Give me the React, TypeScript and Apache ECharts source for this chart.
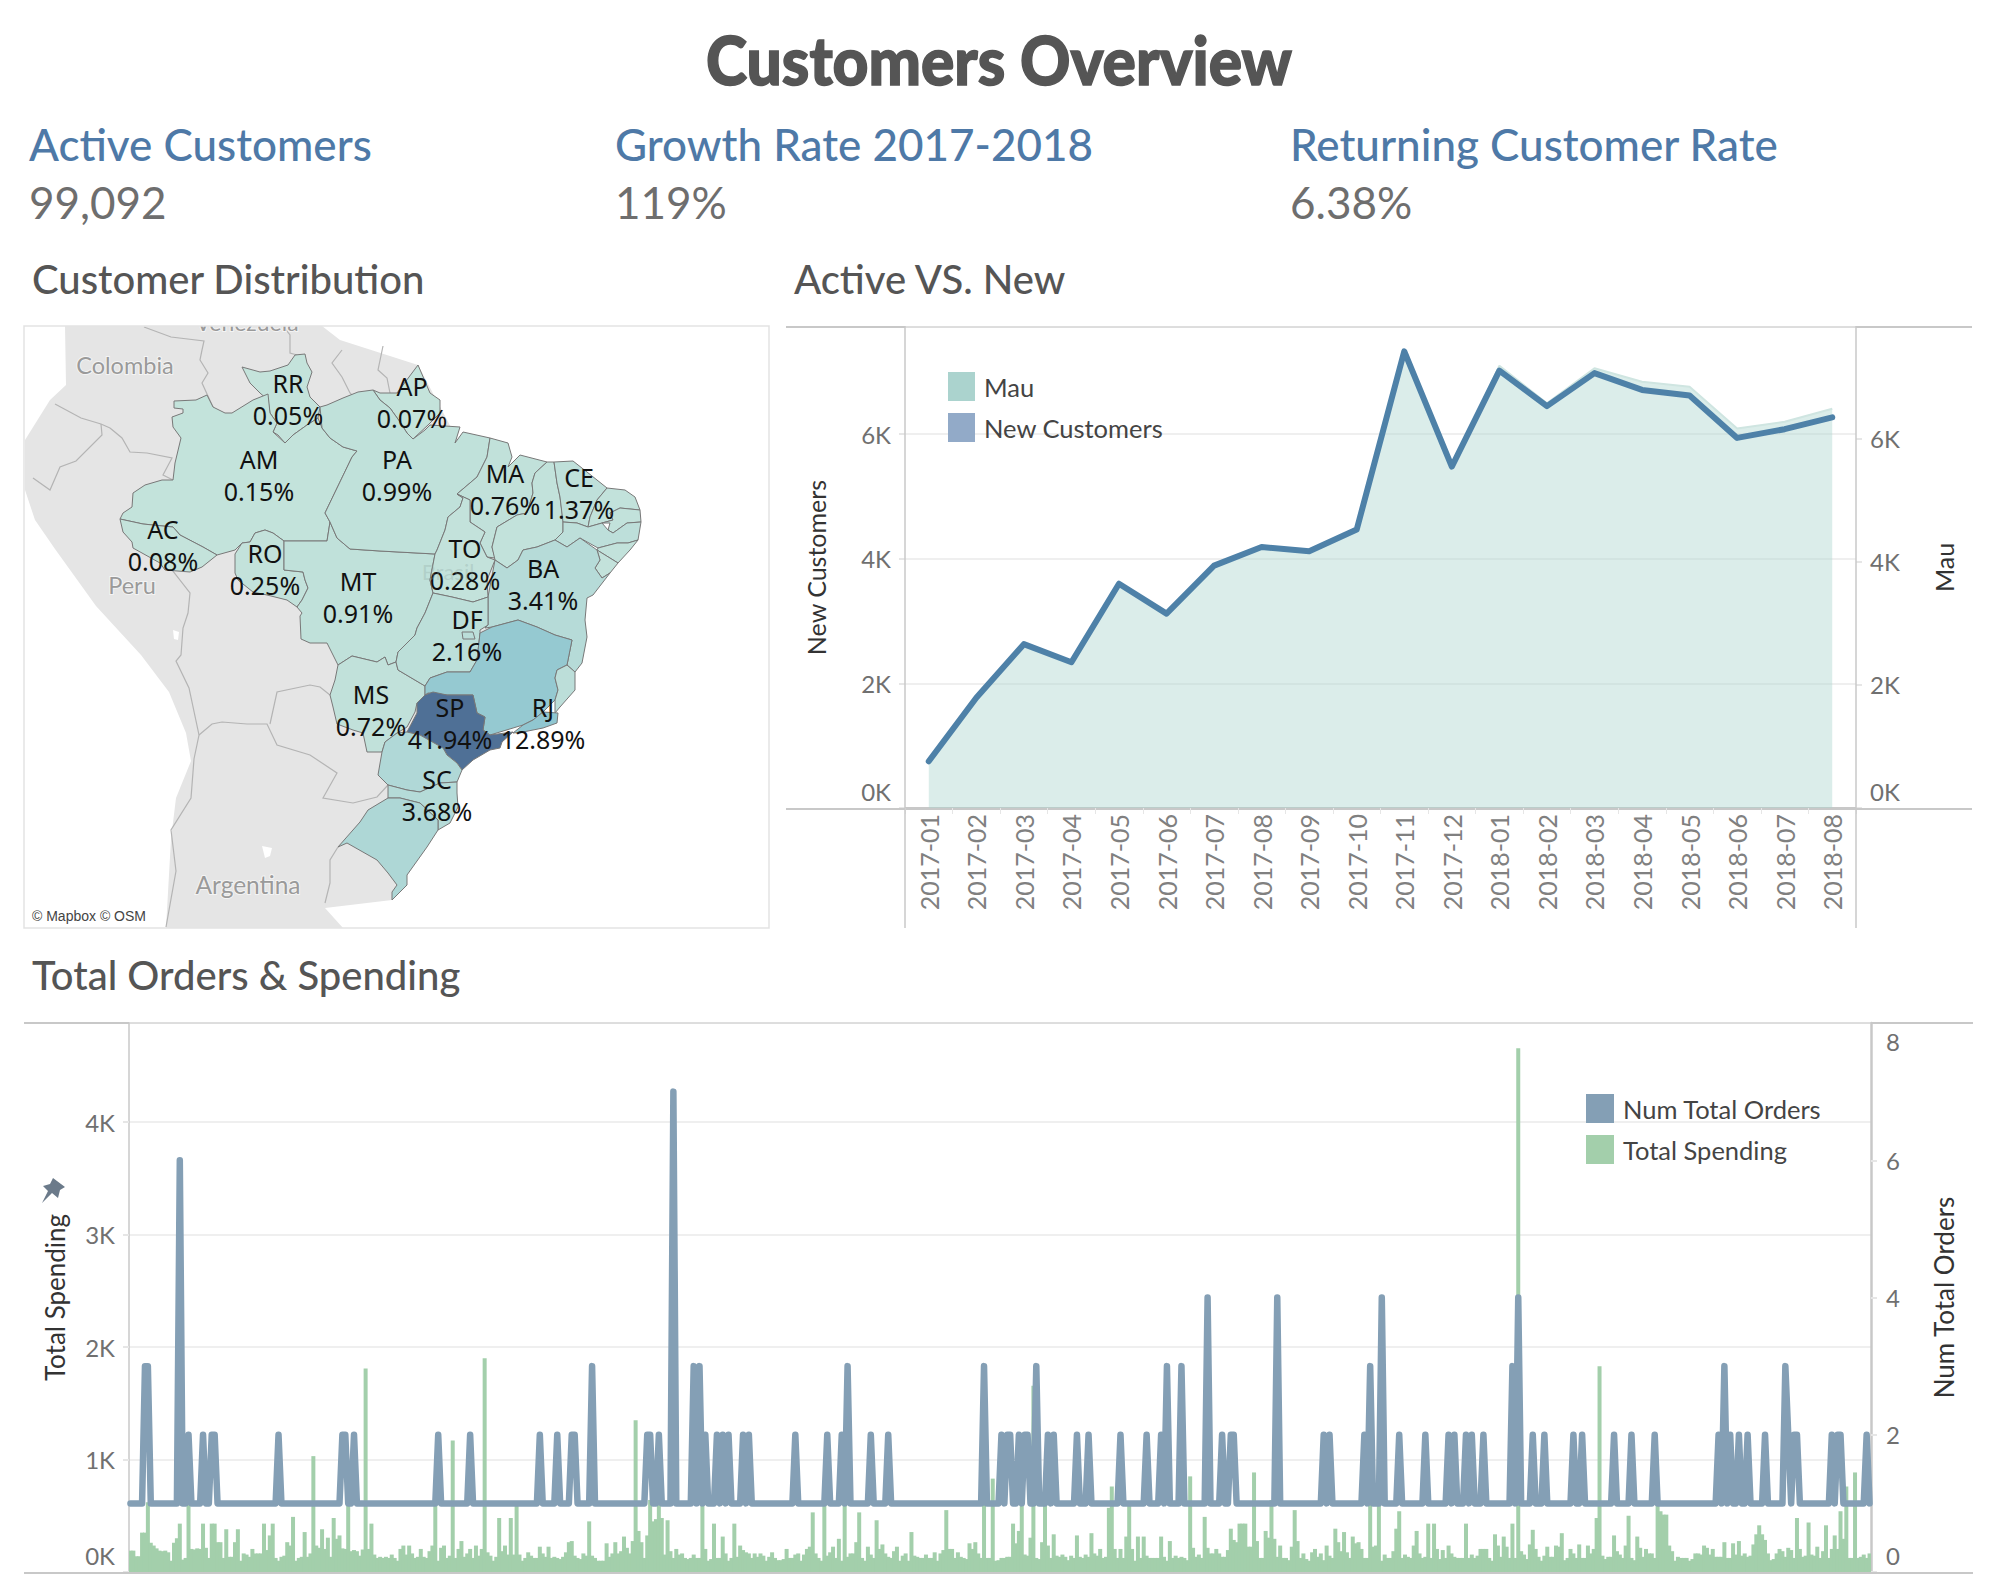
import React, { useEffect, useRef } from "react";
import * as echarts from "echarts";

// ---------- Active VS. New ----------
const months = ["2017-01","2017-02","2017-03","2017-04","2017-05","2017-06","2017-07","2017-08","2017-09","2017-10","2017-11","2017-12","2018-01","2018-02","2018-03","2018-04","2018-05","2018-06","2018-07","2018-08"];
const newCustomers = [750,1770,2630,2340,3600,3120,3890,4190,4120,4470,7330,5480,7020,6450,6980,6710,6620,5940,6080,6270];
const mau = [760,1790,2670,2370,3650,3160,3910,4240,4170,4530,7450,5550,7190,6580,7150,6930,6850,6170,6280,6490];

// ---------- Total Orders & Spending (one entry per day) ----------
const spendingLow = [
190,190,140,140,350,350,275,260,235,210,190,185,190,175,100,260,300,430,110,125,
225,205,200,210,205,430,215,125,430,430,265,265,125,380,135,135,265,380,100,165,
155,135,205,165,165,165,430,195,325,430,125,100,135,145,265,235,490,100,125,135,
355,135,165,185,235,215,380,205,305,135,480,295,325,210,205,205,185,195,185,145,
200,175,205,430,155,125,135,125,135,125,155,125,100,205,235,155,235,165,125,135,
205,135,125,185,235,135,100,215,235,125,145,225,125,205,275,135,165,205,125,235,
145,205,205,175,145,100,135,480,185,235,155,480,155,205,155,100,125,175,145,125,
125,225,165,135,225,125,135,125,115,135,175,265,275,145,125,115,165,145,450,145,
125,100,100,100,255,135,165,265,165,185,315,215,165,275,325,365,265,125,325,345,
450,470,470,480,155,460,185,125,205,155,165,125,115,125,155,125,125,165,205,100,
115,430,125,125,315,165,100,125,430,135,235,195,175,165,125,165,135,165,145,100,
135,175,125,105,105,115,205,125,125,155,165,100,155,205,225,530,165,125,100,105,
145,175,225,125,295,100,155,135,165,165,265,530,125,100,225,155,125,460,205,245,
165,135,125,185,225,100,145,165,100,355,145,135,125,125,155,125,125,175,100,165,
195,550,205,205,125,175,135,125,115,255,205,265,165,125,125,125,125,100,100,105,
125,125,135,135,430,255,365,265,155,145,305,285,125,115,265,640,235,125,335,145,
135,155,135,105,145,125,325,135,125,155,135,345,165,145,205,125,135,570,165,205,
125,205,125,315,600,205,100,315,125,315,145,125,125,125,125,315,135,100,275,125,
145,125,135,125,105,215,215,135,155,125,490,215,165,165,205,165,135,135,195,385,
285,265,430,430,430,225,225,135,275,125,125,365,305,640,295,135,235,125,125,105,
225,550,275,125,165,115,100,175,205,135,165,105,235,145,125,385,265,185,355,175,
125,315,255,265,205,125,125,205,225,235,135,100,155,125,125,185,385,540,125,155,
135,125,235,365,165,125,135,430,125,430,205,115,195,125,235,165,135,125,125,125,
430,125,155,125,145,205,205,205,125,100,335,235,135,315,225,125,430,125,205,185,
155,115,245,375,205,135,100,145,225,135,135,235,225,345,105,125,205,165,125,245,
125,125,235,165,205,480,305,145,115,135,135,325,185,155,125,235,500,125,105,315,
215,135,205,165,165,125,395,540,510,510,235,185,100,135,125,125,125,100,115,165,
165,155,235,215,155,205,135,135,135,265,125,125,255,155,275,145,165,135,145,245,
335,415,335,285,165,105,115,165,205,185,135,215,195,125,480,205,135,145,440,155,
145,225,125,185,415,125,205,325,205,540,295,125,125,125,155,125,135,155,125,165,
];
const spendingSpikes: [number, number][] = [[6,620],[20,620],[63,1030],[75,640],[81,1810],[105,640],[111,1170],[122,1900],[133,620],[174,1350],[179,640],[182,630],[197,650],[239,815],[246,640],[294,640],[297,830],[307,640],[311,1655],[338,760],[365,850],[387,885],[427,640],[430,1020],[478,4655],[506,1830],[526,640],[591,760],[594,885]];
const orderSpikes: [number, number][] = [[5,3],[6,3],[17,6],[20,2],[25,2],[28,2],[29,2],[51,2],[73,2],[74,2],[77,2],[106,2],[117,2],[141,2],[147,2],[152,2],[153,2],[159,3],[178,2],[179,2],[182,2],[187,7],[194,3],[196,3],[198,2],[202,2],[204,2],[206,2],[211,2],[213,2],[229,2],[240,2],[245,2],[247,3],[255,2],[261,2],[294,3],[300,2],[302,2],[303,2],[306,2],[308,2],[309,2],[312,3],[316,2],[318,2],[326,2],[330,2],[341,2],[350,2],[355,2],[357,3],[362,3],[371,4],[376,2],[379,2],[380,2],[395,4],[411,2],[413,2],[425,2],[427,3],[431,4],[437,2],[446,2],[454,2],[456,2],[460,2],[462,2],[466,2],[476,3],[478,4],[483,2],[487,2],[497,2],[500,2],[511,2],[517,2],[525,2],[547,2],[549,3],[551,2],[554,2],[557,2],[563,2],[570,3],[571,2],[573,2],[574,2],[586,2],[588,2],[589,2],[598,2]];
const days = spendingLow.map((_, i) => "day " + (i + 1));
const spending = spendingLow.slice();
spendingSpikes.forEach(([i, v]) => { spending[i] = v; });
const orders: number[] = spendingLow.map(() => 1);
orderSpikes.forEach(([i, v]) => { orders[i] = v; });

// ---------- Customer Distribution ----------
type Pt = [number, number];
const stateOutlines: Record<string, Pt[]> = {
  RR: [[242,367],[260,372],[270,371],[288,365],[295,355],[305,354],[307,363],[312,372],[307,387],[310,397],[320,407],[318,418],[307,425],[300,430],[293,435],[285,443],[278,435],[273,432],[277,423],[270,413],[268,400],[260,393],[250,383]],
  AM: [[174,401],[196,400],[207,395],[213,407],[225,413],[232,413],[253,400],[268,394],[270,413],[277,423],[273,432],[285,443],[293,435],[307,425],[318,418],[322,428],[330,438],[343,447],[357,451],[352,457],[325,513],[330,522],[327,541],[284,541],[273,533],[265,530],[255,533],[250,542],[242,543],[235,550],[217,555],[203,547],[180,535],[173,527],[143,524],[120,519],[123,513],[132,507],[133,493],[145,485],[162,480],[173,480],[175,463],[181,438],[173,427],[172,417],[183,413],[183,409],[174,408]],
  AC: [[120,519],[143,524],[173,527],[180,535],[203,547],[217,555],[202,567],[190,572],[165,570],[160,563],[142,553],[133,548],[132,542],[123,532]],
  RO: [[255,533],[265,530],[273,533],[284,541],[284,570],[303,572],[305,580],[308,588],[302,600],[297,607],[287,600],[267,595],[253,592],[238,580],[235,573],[235,554],[242,543],[250,542]],
  MT: [[284,541],[327,541],[330,522],[337,538],[350,549],[380,551],[435,554],[430,580],[433,593],[425,613],[417,628],[415,635],[398,652],[396,662],[388,665],[385,657],[377,662],[352,656],[338,665],[327,643],[310,643],[301,639],[300,616],[302,613],[297,607],[302,600],[308,588],[305,580],[303,572],[284,570]],
  MS: [[338,665],[352,656],[377,662],[385,657],[388,665],[396,662],[398,670],[425,686],[425,695],[417,703],[415,712],[407,727],[397,733],[385,742],[382,752],[367,752],[363,733],[353,730],[337,724],[333,707],[330,695],[335,680]],
  AP: [[373,390],[380,393],[397,393],[418,365],[430,393],[440,400],[440,413],[428,425],[413,439],[407,433],[400,422],[390,408],[380,400]],
  PA: [[320,407],[327,405],[343,398],[358,392],[373,390],[380,400],[390,408],[400,422],[407,433],[413,439],[425,430],[430,425],[445,426],[460,427],[455,443],[463,432],[490,438],[487,457],[477,477],[457,494],[463,498],[460,507],[448,517],[445,530],[437,550],[435,554],[380,551],[350,549],[337,538],[330,522],[325,513],[352,457],[357,451],[343,447],[330,438],[322,428]],
  MA: [[490,438],[508,443],[512,457],[508,467],[520,455],[547,462],[535,473],[532,483],[533,493],[527,513],[517,515],[497,527],[492,547],[495,558],[487,557],[480,543],[485,532],[470,522],[470,500],[457,494],[477,477],[487,457]],
  PI: [[547,462],[554,462],[557,483],[560,497],[563,520],[563,532],[555,540],[537,547],[523,550],[518,560],[507,568],[495,560],[492,547],[497,527],[517,515],[527,513],[533,493],[532,483],[535,473]],
  CE: [[554,462],[573,461],[587,472],[607,488],[597,500],[590,517],[588,527],[577,523],[563,522],[560,497],[557,483]],
  RN: [[607,488],[625,490],[635,497],[640,510],[620,508],[610,513],[613,520],[602,523],[588,527],[590,517],[597,500]],
  PB: [[640,510],[641,522],[627,523],[613,533],[608,530],[610,523],[602,523],[613,520],[610,513],[620,508]],
  PE: [[641,522],[638,540],[628,543],[617,543],[598,548],[580,538],[567,547],[555,540],[563,532],[563,522],[577,523],[588,527],[602,523],[608,530],[613,533],[627,523]],
  AL: [[638,540],[630,550],[618,563],[597,550],[598,548],[617,543],[628,543]],
  SE: [[618,563],[610,573],[602,578],[595,568],[600,560],[597,550]],
  BA: [[495,560],[507,568],[518,560],[523,550],[537,547],[555,540],[567,547],[580,538],[597,550],[600,560],[595,568],[602,578],[610,573],[593,595],[587,598],[585,620],[587,637],[582,663],[575,672],[567,665],[572,640],[555,635],[537,627],[518,620],[492,627],[485,628],[488,625],[488,597]],
  TO: [[457,494],[463,498],[460,507],[448,517],[445,530],[437,550],[435,554],[430,580],[433,593],[452,597],[473,602],[488,597],[487,580],[495,560],[487,557],[480,543],[485,532],[470,522],[470,500]],
  GO: [[433,593],[452,597],[473,602],[488,597],[488,625],[480,630],[480,633],[477,660],[470,672],[447,672],[430,678],[425,686],[398,670],[396,662],[398,652],[415,635],[417,628],[425,613]],
  MG: [[425,686],[430,678],[447,672],[470,672],[477,660],[480,633],[492,627],[518,620],[537,627],[555,635],[572,640],[567,665],[557,670],[555,678],[558,690],[555,700],[543,712],[533,720],[523,725],[490,735],[483,730],[485,717],[477,713],[473,695],[447,695],[428,693],[425,695]],
  ES: [[567,665],[575,672],[575,690],[560,707],[555,713],[555,700],[558,690],[555,678],[557,670]],
  RJ: [[543,712],[558,713],[557,723],[543,728],[523,732],[513,733],[523,725],[533,720]],
  SP: [[425,695],[433,692],[447,695],[473,695],[477,713],[485,717],[483,730],[490,735],[513,732],[502,742],[500,748],[490,750],[473,760],[462,770],[457,763],[447,755],[443,748],[420,735],[407,732],[417,713],[417,703]],
  PR: [[407,732],[420,735],[443,748],[447,755],[457,763],[462,770],[457,782],[440,783],[420,792],[407,790],[388,785],[378,775],[382,752],[385,742],[397,733]],
  SC: [[388,785],[407,790],[420,792],[440,783],[457,782],[457,793],[458,807],[450,823],[438,830],[438,820],[420,803],[400,798],[388,798]],
  RS: [[388,798],[400,798],[420,803],[438,820],[438,830],[427,847],[407,875],[407,885],[392,900],[392,892],[397,885],[388,873],[377,860],[347,843],[338,847],[360,822],[368,810]],
  DF: [[462,632],[473,632],[475,639],[463,639]],
};
const stateShares: Record<string, number> = { RR:0.05, AP:0.07, AM:0.15, PA:0.99, MA:0.76, CE:1.37, AC:0.08, RO:0.25, MT:0.91, TO:0.28, BA:3.41, DF:2.16, MS:0.72, SP:41.94, RJ:12.89, SC:3.68, GO:2.03, MG:11.7, ES:2.04, PR:5.07, RS:5.5, PI:0.5, RN:0.49, PB:0.54, PE:1.66, AL:0.41, SE:0.34 };
const labelCenters: Record<string, Pt> = { RR:[288,399], AP:[412,402], AM:[259,475], PA:[397,475], MA:[505,489], CE:[579,493], AC:[163,545], RO:[265,569], MT:[358,597], TO:[465,564], BA:[543,584], DF:[467,635], MS:[371,710], SP:[450,723], RJ:[543,723], SC:[437,795] };
const landOutline: Pt[] = [[65,326],[66,385],[50,400],[25,440],[25,490],[35,520],[55,549],[96,606],[141,655],[169,692],[186,733],[191,761],[176,798],[171,839],[166,928],[343,928],[325,908],[392,900],[440,780],[520,650],[500,520],[418,365],[340,340],[322,326]];
const lakes: Pt[][] = [[[262,846],[272,848],[270,856],[265,858]],[[173,630],[179,632],[178,640],[174,639]]];
const borderLines: Pt[][] = [
  [[144,327],[171,337],[204,341],[202,350],[200,360],[208,373],[202,383],[213,407]],
  [[283,326],[290,335],[290,353],[297,355]],
  [[342,350],[332,363],[342,377],[350,393],[355,398]],
  [[383,346],[378,370],[387,378],[390,393]],
  [[110,428],[122,438],[130,452],[147,453],[172,458],[163,475],[173,480]],
  [[55,404],[81,418],[101,424],[110,428]],
  [[101,424],[102,435],[76,461],[60,467],[50,490],[33,478]],
  [[163,563],[172,570],[190,593],[188,613],[183,628],[181,655],[176,661],[189,688],[199,735],[194,759],[191,798],[171,830],[176,871],[166,927]],
  [[199,735],[212,724],[222,722],[247,724],[267,724],[277,745],[310,755],[337,773],[323,798],[353,803],[377,797],[388,785]],
  [[270,724],[277,692],[310,685],[320,687],[330,695]],
  [[338,847],[330,860],[330,883],[325,903]],
];
const placeNames: { t: string; x: number; y: number; s: number }[] = [
  { t: "Venezuela", x: 247, y: 322, s: 23 },
  { t: "Colombia", x: 125, y: 365, s: 23.5 },
  { t: "Peru", x: 132, y: 585, s: 23.5 },
  { t: "Argentina", x: 248, y: 884, s: 24.5 },
];

// ---------- Texts ----------
const kpis = [
  { label: "Active Customers", value: "99,092", x: 29 },
  { label: "Growth Rate 2017-2018", value: "119%", x: 615 },
  { label: "Returning Customer Rate", value: "6.38%", x: 1290 },
];
const sections = [
  { t: "Customer Distribution", x: 32, y: 279 },
  { t: "Active VS. New", x: 794, y: 279 },
  { t: "Total Orders & Spending", x: 32, y: 975 },
];

const FONT = "Lato";
const labelRich = (align: string) => ({
  z: { padding: [0, 0, 5, 0], fontFamily: FONT, fontSize: 24, color: "#707070", align },
  t: { padding: [6, 0, 0, 0], fontFamily: FONT, fontSize: 24, color: "#707070", align },
});
const toK = (v: number) => (v === 0 ? "{z|0K}" : v / 1000 + "K");

function buildBrazilGeo() {
  return {
    type: "FeatureCollection",
    features: Object.keys(stateOutlines).map((name) => {
      const pts = stateOutlines[name];
      const ring = pts.concat([pts[0]]).map(([x, y]) => [x, -y]);
      const c = labelCenters[name];
      return {
        type: "Feature",
        properties: c ? { name, cp: [c[0], -c[1]] } : { name },
        geometry: { type: "Polygon", coordinates: [ring] },
      };
    }),
  };
}

function hLine(x1: number, x2: number, y: number, w: number, color: string) {
  return { type: "line", z: 5, silent: true, shape: { x1, y1: y, x2, y2: y }, style: { stroke: color, lineWidth: w } };
}
function vLine(x: number, y1: number, y2: number, w: number, color: string) {
  return { type: "line", z: 5, silent: true, shape: { x1: x, y1, x2: x, y2 }, style: { stroke: color, lineWidth: w } };
}

export default function App() {
  const ref = useRef<HTMLDivElement>(null);
  useEffect(() => {
    const chart = echarts.init(ref.current!, undefined, { renderer: "svg" });
    echarts.registerMap("brazil", buildBrazilGeo() as any);
    const graphics: any[] = [
      { type: "rect", z: 0, silent: true, shape: { x: 24, y: 326, width: 745, height: 602 }, style: { fill: "#ffffff" } },
      { type: "polygon", z: 0, silent: true, shape: { points: landOutline }, style: { fill: "#e5e5e5" } },
      ...lakes.map((p) => ({ type: "polygon", z: 0, silent: true, shape: { points: p }, style: { fill: "#ffffff" } })),
      ...borderLines.map((p) => ({ type: "polyline", z: 1, silent: true, shape: { points: p }, style: { stroke: "#b4b4b4", lineWidth: 1.2, fill: "none" } })),
      ...placeNames.map((p) => ({ type: "text", z: 1, silent: true, x: p.x, y: p.y, style: { text: p.t, font: `${p.s}px ${FONT}`, fill: "#9a9a9a", stroke: "#f4f4f4", lineWidth: 2, align: "center", verticalAlign: "middle" } })),
      { type: "rect", z: 1, silent: true, shape: { x: 20, y: 300, width: 760, height: 26 }, style: { fill: "#ffffff" } },
      { type: "rect", z: 1, silent: true, shape: { x: 24, y: 326, width: 745, height: 602 }, style: { fill: "none", stroke: "#e3e3e3", lineWidth: 1.5 } },
      { type: "text", z: 3, silent: true, x: 448, y: 571, style: { text: "Brasil", font: `22px ${FONT}`, fill: "rgba(140,165,160,0.3)", align: "center", verticalAlign: "middle" } },
      { type: "text", z: 3, silent: true, x: 32, y: 916, style: { text: "© Mapbox © OSM", font: `14px "Liberation Sans"`, fill: "#444444", align: "left", verticalAlign: "middle" } },
      { type: "text", z: 6, silent: true, x: 999, y: 60, scaleX: 0.943, style: { text: "Customers Overview", font: `900 66px ${FONT}`, fill: "#555555", stroke: "#555555", lineWidth: 1.5, align: "center", verticalAlign: "middle" } },
      ...kpis.map((k) => ({ type: "text", z: 6, silent: true, x: k.x, y: 144, style: { text: k.label, font: `500 44px ${FONT}`, fill: "#4e79a7", align: "left", verticalAlign: "middle" } })),
      ...kpis.map((k) => ({ type: "text", z: 6, silent: true, x: k.x, y: 202, style: { text: k.value, font: `400 44px ${FONT}`, fill: "#6e6e6e", align: "left", verticalAlign: "middle" } })),
      ...sections.map((k) => ({ type: "text", z: 6, silent: true, x: k.x, y: k.y, style: { text: k.t, font: `500 40px ${FONT}`, fill: "#555555", align: "left", verticalAlign: "middle" } })),
      // frames of the two charts
      hLine(786, 905, 327, 2, "#c8c8c8"), hLine(905, 1856, 327, 1, "#cccccc"), hLine(1856, 1972, 327, 2, "#c8c8c8"),
      hLine(786, 905, 809, 2, "#c8c8c8"), hLine(1856, 1972, 809, 2, "#c8c8c8"),
      vLine(905, 326, 928, 1.5, "#c8c8c8"), vLine(1856, 326, 928, 1.5, "#c8c8c8"),
      hLine(24, 129, 1023, 2, "#c8c8c8"), hLine(129, 1871, 1023, 1, "#cccccc"), hLine(1871, 1973, 1023, 2, "#c8c8c8"),
      hLine(24, 129, 1573, 2, "#c8c8c8"), hLine(1871, 1973, 1573, 2, "#c8c8c8"),
      // pin icon beside the axis title
      { type: "polygon", z: 6, silent: true, shape: { points: [[53,1178],[65,1187],[60,1190],[58,1198],[52,1193],[42,1203],[48,1191],[43,1186],[50,1184]] }, style: { fill: "#6b7a8a" } },
    ];
    const yLabel = { fontFamily: FONT, fontSize: 24, color: "#707070" };
    const titleStyle = { fontFamily: FONT, fontSize: 25, color: "#333333" };
    const titleStyleB = { fontFamily: FONT, fontSize: 26, color: "#333333" };
    const split = { show: true, lineStyle: { color: "#efefef", width: 2 } };
    const tick = { show: true, length: 6, lineStyle: { color: "#e6e6e6", width: 2 } };
    chart.setOption({
      animation: false,
      backgroundColor: "#ffffff",
      graphic: graphics,
      grid: [
        { left: 905, top: 327, width: 951, height: 481 },
        { left: 129, top: 1023, width: 1742, height: 549 },
      ],
      legend: [
        {
          left: 943, top: 367, orient: "vertical", itemWidth: 27, itemHeight: 29, itemGap: 12, icon: "rect", selectedMode: false,
          textStyle: { fontFamily: FONT, fontSize: 25.5, color: "#444444", padding: [0, 0, 0, 4] },
          data: [
            { name: "Mau", itemStyle: { color: "#abd3ce", opacity: 1 }, lineStyle: { opacity: 0 } },
            { name: "New Customers", itemStyle: { color: "#92aac8", opacity: 1 }, lineStyle: { opacity: 0 } },
          ],
        },
        {
          left: 1581, top: 1089, orient: "vertical", itemWidth: 28, itemHeight: 29, itemGap: 12, icon: "rect", selectedMode: false,
          textStyle: { fontFamily: FONT, fontSize: 25.5, color: "#444444", padding: [0, 0, 0, 4] },
          data: [
            { name: "Num Total Orders", itemStyle: { color: "#849fb5", opacity: 1 }, lineStyle: { opacity: 0 } },
            { name: "Total Spending", itemStyle: { color: "#a3cfab", opacity: 1 } },
          ],
        },
      ],
      xAxis: [
        {
          type: "category", gridIndex: 0, data: months,
          axisLine: { lineStyle: { color: "#c8c8c8", width: 3 } },
          axisTick: { show: true, length: 6, lineStyle: { color: "#e6e6e6" } },
          axisLabel: { rotate: 90, interval: 0, margin: 6, fontFamily: FONT, fontSize: 25, color: "#808080" },
        },
        {
          type: "category", gridIndex: 1, data: days,
          axisLine: { lineStyle: { color: "#c8c8c8", width: 3 } },
          axisTick: { show: false }, axisLabel: { show: false },
        },
      ],
      yAxis: [
        {
          type: "value", gridIndex: 0, position: "left", min: 0, max: 7720, interval: 2000,
          name: "New Customers", nameLocation: "middle", nameGap: 77, nameRotate: 90, nameTextStyle: titleStyle,
          axisLine: { show: false }, axisTick: tick, splitLine: split,
          axisLabel: { ...yLabel, margin: 14, formatter: toK, rich: labelRich("right"), showMaxLabel: false, verticalAlignMinLabel: "bottom" },
        },
        {
          type: "value", gridIndex: 0, position: "right", min: 0, max: 7820, interval: 2000,
          name: "Mau", nameLocation: "middle", nameGap: 75, nameRotate: 90, nameTextStyle: titleStyle,
          axisLine: { show: false }, axisTick: tick, splitLine: { show: false },
          axisLabel: { ...yLabel, margin: 14, formatter: toK, rich: labelRich("left"), showMaxLabel: false, verticalAlignMinLabel: "bottom" },
        },
        {
          type: "value", gridIndex: 1, position: "left", min: 0, max: 4880, interval: 1000,
          name: "Total Spending", nameLocation: "middle", nameGap: 61, nameRotate: 90, nameTextStyle: titleStyleB,
          axisLine: { show: true, lineStyle: { color: "#c8c8c8", width: 1.5 } }, axisTick: tick, splitLine: split,
          axisLabel: { ...yLabel, margin: 14, formatter: toK, rich: labelRich("right"), showMaxLabel: false, verticalAlignMinLabel: "bottom" },
        },
        {
          type: "value", gridIndex: 1, position: "right", min: 0, max: 8, interval: 2,
          name: "Num Total Orders", nameLocation: "middle", nameGap: 60, nameRotate: 90, nameTextStyle: titleStyleB,
          axisLine: { show: true, lineStyle: { color: "#c8c8c8", width: 2.5 } }, axisTick: tick, splitLine: { show: false },
          axisLabel: {
            ...yLabel, margin: 15, verticalAlignMinLabel: "bottom", verticalAlignMaxLabel: "top", rich: labelRich("left"),
            formatter: (v: number) => (v === 0 ? "{z|0}" : v === 8 ? "{t|8}" : String(v)),
          },
        },
      ],
      visualMap: {
        show: false, seriesIndex: 4, min: 0, max: 42,
        inRange: { color: ["#c4e3db", "#8cc4cf", "#6e9ab2", "#4f7096"] },
      },
      series: [
        {
          name: "Mau", type: "line", xAxisIndex: 0, yAxisIndex: 1, data: mau, symbol: "none", z: 2,
          lineStyle: { color: "#cfe5e1", width: 2 }, itemStyle: { color: "#abd3ce" },
          areaStyle: { color: "#a9d3cd", opacity: 0.42 },
        },
        {
          name: "New Customers", type: "line", xAxisIndex: 0, yAxisIndex: 0, data: newCustomers, symbol: "none", z: 3,
          lineStyle: { color: "#4e81a8", width: 6, join: "round", cap: "round" }, itemStyle: { color: "#4e81a8" },
        },
        {
          name: "Total Spending", type: "bar", xAxisIndex: 1, yAxisIndex: 2, data: spending, barWidth: 4, z: 2,
          itemStyle: { color: "#a3cfab" }, large: false,
        },
        {
          name: "Num Total Orders", type: "line", xAxisIndex: 1, yAxisIndex: 3, data: orders, symbol: "none", z: 3,
          lineStyle: { color: "#849fb5", width: 6.5, join: "round", cap: "round" }, itemStyle: { color: "#849fb5" },
        },
        {
          name: "Customer Share", type: "map", map: "brazil", z: 2, silent: true, selectedMode: false, roam: false,
          showLegendSymbol: false,
          aspectScale: 1, left: 24, top: 326, width: 745, height: 602,
          boundingCoords: [[24, -326], [769, -928]],
          itemStyle: { borderColor: "#787878", borderWidth: 1 },
          label: { show: false },
          data: Object.keys(stateOutlines).map((name) => ({
            name,
            value: stateShares[name],
            label: {
              show: !!labelCenters[name],
              formatter: (p: any) => `${p.name}\n${p.value.toFixed(2)}%`,
              fontFamily: "Noto Sans", fontSize: 25, lineHeight: 32, color: "#111111",
            },
          })),
        },
      ],
    });
    return () => chart.dispose();
  }, []);
  return <div ref={ref} style={{ position: "fixed", left: 0, top: 0, width: 2002, height: 1588 }} />;
}
